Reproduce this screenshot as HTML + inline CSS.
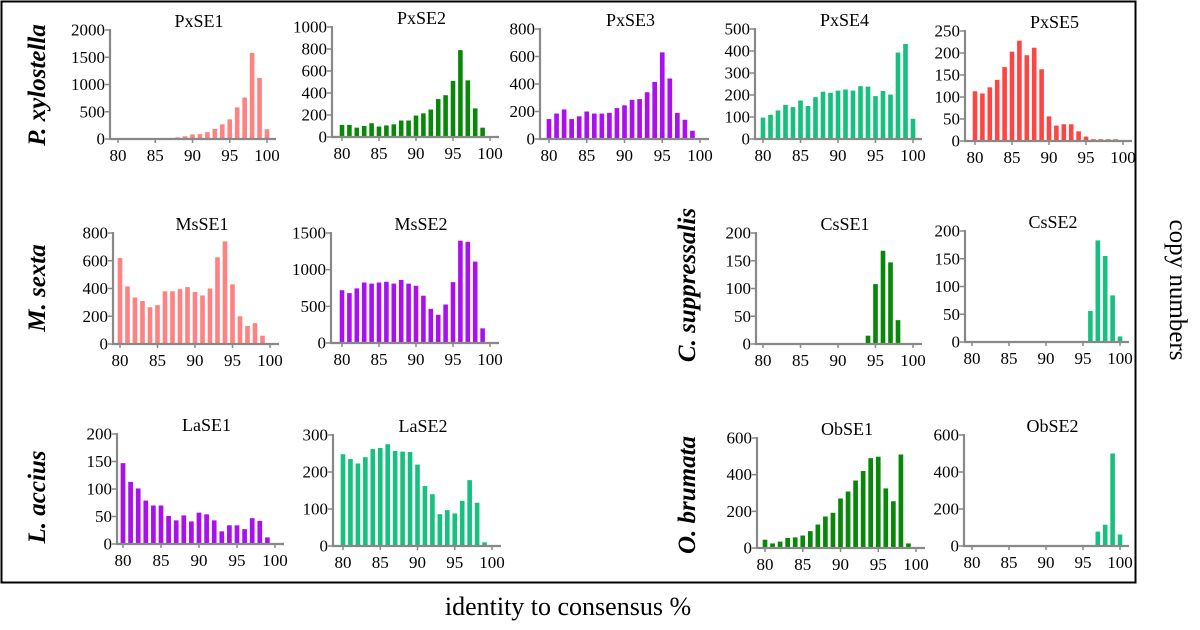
<!DOCTYPE html>
<html><head><meta charset="utf-8"><style>
html,body{margin:0;padding:0;background:#fff;}
svg, svg text{font-family:"Liberation Serif","DejaVu Serif",serif;}
</style></head><body>
<svg id="fig" width="1200" height="625" viewBox="0 0 1200 625" xmlns="http://www.w3.org/2000/svg" font-family="Liberation Serif, serif">
<rect x="1.5" y="1.5" width="1134" height="581" fill="none" stroke="#000" stroke-width="2"/>
<text x="0" y="0" transform="translate(45,85) rotate(-90)" text-anchor="middle" font-size="25" font-weight="bold" font-style="italic">P. xylostella</text>
<text x="0" y="0" transform="translate(45,288) rotate(-90)" text-anchor="middle" font-size="25" font-weight="bold" font-style="italic">M. sexta</text>
<text x="0" y="0" transform="translate(45,497) rotate(-90)" text-anchor="middle" font-size="25" font-weight="bold" font-style="italic">L. accius</text>
<text x="0" y="0" transform="translate(695,285) rotate(-90)" text-anchor="middle" font-size="25" font-weight="bold" font-style="italic">C. suppressalis</text>
<text x="0" y="0" transform="translate(695,495) rotate(-90)" text-anchor="middle" font-size="25" font-weight="bold" font-style="italic">O. brumata</text>
<text x="0" y="0" transform="translate(1170,290) rotate(90)" text-anchor="middle" font-size="25">copy numbers</text>
<text x="568" y="615" text-anchor="middle" font-size="26">identity to consensus %</text>
<g id="panels"></g>
</svg>
<script>
const identityCategories = [80,81,82,83,84,85,86,87,88,89,90,91,92,93,94,95,96,97,98,99,100];
const xTickLabels = [80,85,90,95,100];
const pxSE1 = [0,0,0,0,0,0,10,5,30,50,85,90,125,185,270,360,580,760,1580,1120,180];
const pxSE2 = [110,110,85,100,125,95,105,115,150,150,195,215,250,345,380,510,790,515,260,85,5];
const pxSE3 = [145,185,215,145,165,200,185,185,190,225,245,285,290,340,415,630,440,190,140,60,0];
const pxSE4 = [97,110,130,155,145,175,150,190,215,210,220,225,220,240,238,195,218,202,393,432,92];
const pxSE5 = [113,108,122,139,168,203,228,195,212,163,56,35,38,38,22,10,4,4,4,4,0];
const msSE1 = [620,415,335,310,265,280,380,380,395,410,375,350,400,625,740,430,200,130,150,60,0];
const msSE2 = [720,680,745,825,810,825,835,810,860,810,780,645,465,385,525,830,1395,1380,1110,200,0];
const csSE1 = [0,0,0,0,0,0,0,0,0,0,0,0,0,0,15,108,168,147,43,0,0];
const csSE2 = [0,0,0,0,0,0,0,0,0,0,0,0,0,0,0,0,56,183,155,84,10];
const laSE1 = [147,113,101,79,70,70,51,43,52,41,57,54,43,23,34,34,27,47,42,12,0];
const laSE2 = [248,235,223,240,262,265,275,257,255,254,220,162,140,86,97,88,122,178,117,10,0];
const obSE1 = [45,25,35,55,58,68,92,128,172,192,270,308,368,420,490,498,325,255,510,25,0];
const obSE2 = [0,0,0,0,0,0,0,0,0,0,0,0,0,0,0,0,5,78,115,500,62];
const yTicksPxSE1 = [0,500,1000,1500,2000];
const yTicksPxSE2 = [0,200,400,600,800,1000];
const yTicks800 = [0,200,400,600,800];
const yTicks500 = [0,100,200,300,400,500];
const yTicks250 = [0,50,100,150,200,250];
const yTicks1500 = [0,500,1000,1500];
const yTicks200 = [0,50,100,150,200];
const yTicks300 = [0,100,200,300];
const yTicks600 = [0,200,400,600];

const panels = [
 {name:'PxSE1',data:pxSE1,ticks:yTicksPxSE1,color:'#ff8282',ax:110,top:30,base:139,x80:118,x100:267},
 {name:'PxSE2',data:pxSE2,ticks:yTicksPxSE2,color:'#088808',ax:332,top:27,base:137,x80:342,x100:490},
 {name:'PxSE3',data:pxSE3,ticks:yTicks800,color:'#aa10ee',ax:540,top:29,base:139,x80:549,x100:700},
 {name:'PxSE4',data:pxSE4,ticks:yTicks500,color:'#16c07e',ax:755,top:29,base:139,x80:763,x100:913},
 {name:'PxSE5',data:pxSE5,ticks:yTicks250,color:'#ff4444',ax:965,top:31,base:141,x80:975,x100:1123},
 {name:'MsSE1',data:msSE1,ticks:yTicks800,color:'#ff8282',ax:113,top:233,base:344,x80:120,x100:270},
 {name:'MsSE2',data:msSE2,ticks:yTicks1500,color:'#aa10ee',ax:331,top:233,base:343,x80:342,x100:490},
 {name:'CsSE1',data:csSE1,ticks:yTicks200,color:'#088808',ax:756,top:233,base:344,x80:763,x100:913},
 {name:'CsSE2',data:csSE2,ticks:yTicks200,color:'#16c07e',ax:965,top:231,base:342,x80:972,x100:1120},
 {name:'LaSE1',data:laSE1,ticks:yTicks200,color:'#aa10ee',ax:117,top:434,base:544,x80:123,x100:275},
 {name:'LaSE2',data:laSE2,ticks:yTicks300,color:'#16c07e',ax:333,top:435,base:546,x80:343,x100:492},
 {name:'ObSE1',data:obSE1,ticks:yTicks600,color:'#088808',ax:757,top:438,base:548,x80:765,x100:916},
 {name:'ObSE2',data:obSE2,ticks:yTicks600,color:'#16c07e',ax:964,top:435,base:546,x80:972,x100:1120}
];
const NS='http://www.w3.org/2000/svg';
const FONT='Liberation Serif, serif';
const root=document.getElementById('panels');
function mk(tag,attrs,parent){const e=document.createElementNS(NS,tag);for(const k in attrs)e.setAttribute(k,attrs[k]);parent.appendChild(e);return e;}
panels.forEach(p=>{
  const g=mk('g',{},root);
  
  
  const ymax=p.ticks[p.ticks.length-1];
  const xs=v=>p.x80+(v-80)*(p.x100-p.x80)/20;
  const ys=v=>p.base-v*(p.base-p.top)/ymax;
  const bw=(p.x100-p.x80)/20*0.62;
  const axEnd=p.x100+9;
  const t=mk('text',{x:(p.ax+axEnd)/2+6,y:p.top-3,'text-anchor':'middle','font-size':18,'font-family':FONT},g);
  t.textContent=p.name;
  
  
  identityCategories.forEach((c,i)=>{
    const v=p.data[i]; if(!v) return;
    const r=mk('rect',{x:xs(c)-bw/2,y:ys(v),width:bw,height:p.base-ys(v),fill:p.color},g);
    
    
  });
  const ya=mk('line',{x1:p.ax,y1:p.top-1,x2:p.ax,y2:p.base+1,stroke:'#888',"stroke-width":2.2},g);
  
  
  const xa=mk('line',{x1:p.ax-1,y1:p.base,x2:axEnd,y2:p.base,stroke:'#888',"stroke-width":2.2},g);
  
  
  p.ticks.forEach(tv=>{
    mk('line',{x1:p.ax-5,y1:ys(tv),x2:p.ax,y2:ys(tv),stroke:'#888',"stroke-width":1.5},g);
    const l=mk('text',{x:p.ax-5,y:ys(tv)+5.5,'text-anchor':'end','font-size':17,'font-family':FONT},g);
    l.textContent=tv;
    
    
  });
  xTickLabels.forEach(tv=>{
    mk('line',{x1:xs(tv),y1:p.base,x2:xs(tv),y2:p.base+4,stroke:'#888',"stroke-width":1.5},g);
    const l=mk('text',{x:xs(tv),y:p.base+22,'text-anchor':'middle','font-size':17,'font-family':FONT},g);
    l.textContent=tv;
    
    
  });
});
</script>
</body></html>
